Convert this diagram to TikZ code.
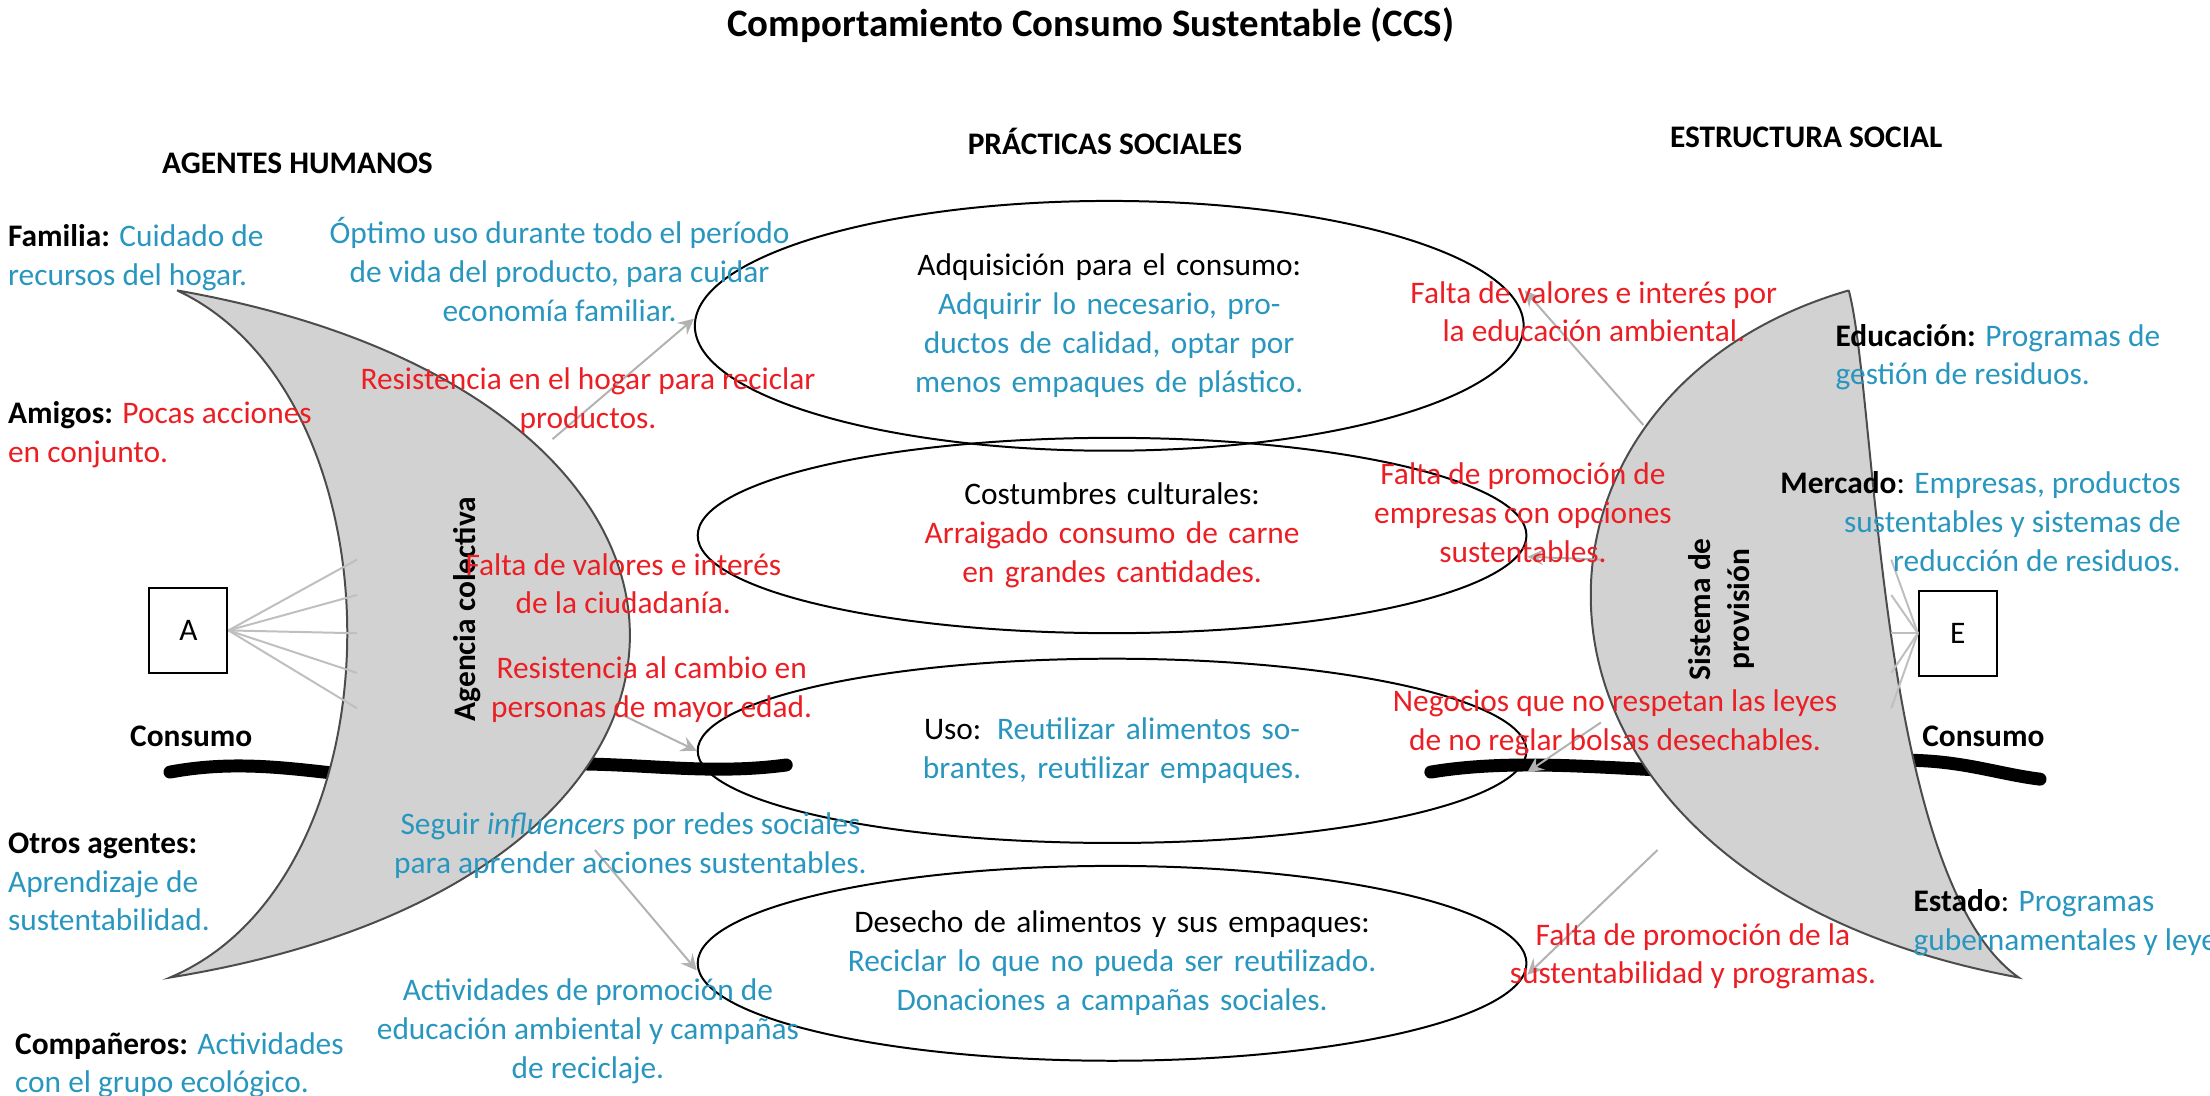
\documentclass[tikz,border=0pt]{standalone}
\usepackage{fontspec}
\setmainfont{Carlito}
\usetikzlibrary{shapes.geometric, arrows}
\definecolor{txtblue}{RGB}{40,150,190}
\definecolor{txtred}{RGB}{235,30,35}
\tikzstyle{practice} = [ellipse, draw=black, minimum width=4.6cm, minimum height=1.3cm, text width=3.9cm, align=center, font=\fontsize{6.3}{7.8}\selectfont]
\tikzstyle{bluetext} = [text=txtblue, align=center, font=\fontsize{6.3}{7.8}\selectfont]
\tikzstyle{redtext} = [text=txtred, align=center, font=\fontsize{6.3}{7.8}\selectfont]
\tikzstyle{agent} = [align=left, anchor=north west, inner sep=0pt, font=\fontsize{6.3}{7.8}\selectfont]
\tikzstyle{header} = [font=\fontsize{6.3}{7.8}\selectfont\bfseries]
\tikzstyle{letter} = [draw=black, minimum width=0.55cm, minimum height=0.6cm, font=\fontsize{6.3}{7.8}\selectfont]
\tikzstyle{arrow} = [draw=gray!60, ->, >=stealth]
\tikzstyle{fan} = [draw=gray!50]
\tikzstyle{wave} = [line width=2.6pt, line cap=round]

\begin{document}
\begin{tikzpicture}[x=0.01cm, y=-0.01cm]
\useasboundingbox (0,0) rectangle (1560,773);

\node (title) [font=\fontsize{7.8}{9}\selectfont\bfseries] at (770,18) {Comportamiento Consumo Sustentable (CCS)};
\node (hAgentes) [header] at (210,115) {AGENTES HUMANOS};
\node (hPracticas) [header] at (780,100) {PRÁCTICAS SOCIALES};
\node (hEstructura) [header] at (1275,97) {ESTRUCTURA SOCIAL};

% consumo line
\draw [wave] (120,545) .. controls (200,530) and (260,560) .. (330,545) .. controls (420,530) and (480,550) .. (555,540);
\draw [wave] (1010,545) .. controls (1100,530) and (1200,555) .. (1300,540) .. controls (1370,530) and (1400,545) .. (1440,550);

% crescents
\draw [fill=gray!35, draw=black!70] (125,205) .. controls (552,280) and (552,620) .. (120,690) .. controls (286,620) and (286,280) .. (125,205);
\draw [fill=gray!35, draw=black!70] (1305,205) .. controls (1045,280) and (1045,620) .. (1425,690) .. controls (1325,620) and (1325,280) .. (1305,205);
\node (agencia) [header, rotate=90] at (330,430) {Agencia colectiva};
\node (sistema) [header, rotate=90, align=center] at (1215,430) {Sistema de\\provisión};

% boxes and fans
\node (boxA) [letter] at (133,445) {A};
\node (boxE) [letter] at (1382,447) {E};
\foreach \y in {395,420,447,475,500} {
  \coordinate (la\y) at (252,\y);
  \draw [fan] (boxA.east) -- (la\y);
  \coordinate (le\y) at (1335,\y);
  \draw [fan] (boxE.west) -- (le\y);
}

% practices
\node (adq) [practice] at (783,230) {Adquisición para el consumo:\\\textcolor{txtblue}{Adquirir lo necesario, productos de calidad, optar por menos empaques de plástico.}};
\node (cost) [practice] at (785,378) {Costumbres culturales:\\\textcolor{txtred}{Arraigado consumo de carne en grandes cantidades.}};
\node (uso) [practice] at (785,530) {Uso: \textcolor{txtblue}{Reutilizar alimentos sobrantes, reutilizar empaques.}};
\node (desecho) [practice] at (785,680) {Desecho de alimentos y sus empaques: \textcolor{txtblue}{Reciclar lo que no pueda ser reutilizado. Donaciones a campañas sociales.}};

% arrows
\coordinate (l1) at (390,310);
\coordinate (l2) at (440,505);
\coordinate (l3) at (420,600);
\coordinate (r1) at (1160,300);
\coordinate (r2) at (1130,395);
\coordinate (r3) at (1130,510);
\coordinate (r4) at (1170,600);
\draw [arrow] (l1) -- (adq.west |- 0,225);
\draw [arrow] (l2) -- (uso.west);
\draw [arrow] (l3) -- (desecho.west |- 0,685);
\draw [arrow] (r1) -- (adq.east |- 0,205);
\draw [arrow] (r2) -- (cost.east |- 0,393);
\draw [arrow] (r3) -- (uso.east |- 0,545);
\draw [arrow] (r4) -- (desecho.east |- 0,688);

% left texts
\node (familia) [agent] at (5,158) {\textbf{Familia:} \textcolor{txtblue}{Cuidado de}\\\textcolor{txtblue}{recursos del hogar.}};
\node (amigos) [agent] at (5,283) {\textbf{Amigos:} \textcolor{txtred}{Pocas acciones}\\\textcolor{txtred}{en conjunto.}};
\node (otros) [agent] at (5,587) {\textbf{Otros agentes:}\\\textcolor{txtblue}{Aprendizaje de}\\\textcolor{txtblue}{sustentabilidad.}};
\node (companeros) [agent] at (10,728) {\textbf{Compañeros:} \textcolor{txtblue}{Actividades}\\\textcolor{txtblue}{con el grupo ecológico.}};
\node (consumoL) [header] at (135,520) {Consumo};
\node (optimo) [bluetext] at (395,190) {Óptimo uso durante todo el período\\de vida del producto, para cuidar\\economía familiar.};
\node (resHogar) [redtext] at (415,283) {Resistencia en el hogar para reciclar\\productos.};
\node (faltaCiud) [redtext] at (440,412) {Falta de valores e interés\\de la ciudadanía.};
\node (resCambio) [redtext] at (460,487) {Resistencia al cambio en\\personas de mayor edad.};
\node (seguir) [bluetext] at (445,597) {Seguir \textit{influencers} por redes sociales\\para aprender acciones sustentables.};
\node (activ) [bluetext] at (415,728) {Actividades de promoción de\\educación ambiental y campañas\\de reciclaje.};

% right texts
\node (faltaEdu) [redtext] at (1125,220) {Falta de valores e interés por\\la educación ambiental.};
\node (faltaProm) [redtext] at (1075,362) {Falta de promoción de\\empresas con opciones\\sustentables.};
\node (negocios) [redtext] at (1140,510) {Negocios que no respetan las leyes\\de no reglar bolsas desechables.};
\node (faltaSust) [redtext] at (1195,675) {Falta de promoción de la\\sustentabilidad y programas.};
\node (educacion) [agent] at (1295,228) {\textbf{Educación:} \textcolor{txtblue}{Programas de}\\\textcolor{txtblue}{gestión de residuos.}};
\node (mercado) [agent, align=right, anchor=north east] at (1540,332) {\textbf{Mercado}: \textcolor{txtblue}{Empresas, productos}\\\textcolor{txtblue}{sustentables y sistemas de}\\\textcolor{txtblue}{reducción de residuos.}};
\node (consumoR) [header] at (1400,520) {Consumo};
\node (estado) [agent] at (1350,627) {\textbf{Estado}: \textcolor{txtblue}{Programas}\\\textcolor{txtblue}{gubernamentales y leyes.}};

\end{tikzpicture}
\end{document}
